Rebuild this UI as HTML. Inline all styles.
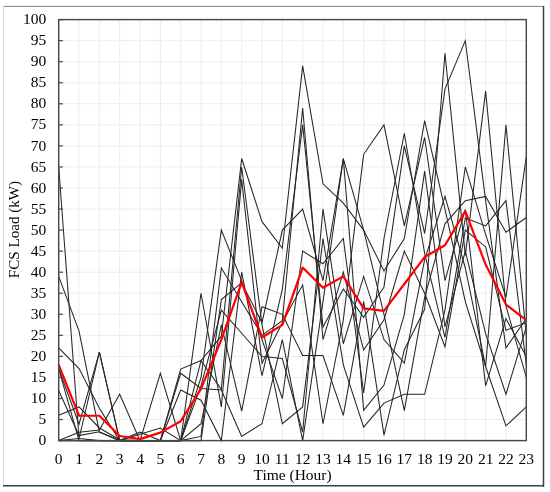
<!DOCTYPE html>
<html><head><meta charset="utf-8"><style>html,body{margin:0;padding:0;background:#fff;}svg{display:block;}</style></head>
<body><svg width="550" height="492" viewBox="0 0 550 492">
<rect width="550" height="492" fill="#fff"/>
<g stroke="#ebebeb" stroke-width="0.9" shape-rendering="auto"><line x1="79.03" y1="19.60" x2="79.03" y2="440.60"/><line x1="99.36" y1="19.60" x2="99.36" y2="440.60"/><line x1="119.69" y1="19.60" x2="119.69" y2="440.60"/><line x1="140.02" y1="19.60" x2="140.02" y2="440.60"/><line x1="160.35" y1="19.60" x2="160.35" y2="440.60"/><line x1="180.68" y1="19.60" x2="180.68" y2="440.60"/><line x1="201.01" y1="19.60" x2="201.01" y2="440.60"/><line x1="221.34" y1="19.60" x2="221.34" y2="440.60"/><line x1="241.67" y1="19.60" x2="241.67" y2="440.60"/><line x1="262.00" y1="19.60" x2="262.00" y2="440.60"/><line x1="282.33" y1="19.60" x2="282.33" y2="440.60"/><line x1="302.66" y1="19.60" x2="302.66" y2="440.60"/><line x1="322.99" y1="19.60" x2="322.99" y2="440.60"/><line x1="343.32" y1="19.60" x2="343.32" y2="440.60"/><line x1="363.65" y1="19.60" x2="363.65" y2="440.60"/><line x1="383.98" y1="19.60" x2="383.98" y2="440.60"/><line x1="404.31" y1="19.60" x2="404.31" y2="440.60"/><line x1="424.64" y1="19.60" x2="424.64" y2="440.60"/><line x1="444.97" y1="19.60" x2="444.97" y2="440.60"/><line x1="465.30" y1="19.60" x2="465.30" y2="440.60"/><line x1="485.63" y1="19.60" x2="485.63" y2="440.60"/><line x1="505.96" y1="19.60" x2="505.96" y2="440.60"/><line x1="58.70" y1="419.55" x2="526.29" y2="419.55"/><line x1="58.70" y1="398.50" x2="526.29" y2="398.50"/><line x1="58.70" y1="377.45" x2="526.29" y2="377.45"/><line x1="58.70" y1="356.40" x2="526.29" y2="356.40"/><line x1="58.70" y1="335.35" x2="526.29" y2="335.35"/><line x1="58.70" y1="314.30" x2="526.29" y2="314.30"/><line x1="58.70" y1="293.25" x2="526.29" y2="293.25"/><line x1="58.70" y1="272.20" x2="526.29" y2="272.20"/><line x1="58.70" y1="251.15" x2="526.29" y2="251.15"/><line x1="58.70" y1="230.10" x2="526.29" y2="230.10"/><line x1="58.70" y1="209.05" x2="526.29" y2="209.05"/><line x1="58.70" y1="188.00" x2="526.29" y2="188.00"/><line x1="58.70" y1="166.95" x2="526.29" y2="166.95"/><line x1="58.70" y1="145.90" x2="526.29" y2="145.90"/><line x1="58.70" y1="124.85" x2="526.29" y2="124.85"/><line x1="58.70" y1="103.80" x2="526.29" y2="103.80"/><line x1="58.70" y1="82.75" x2="526.29" y2="82.75"/><line x1="58.70" y1="61.70" x2="526.29" y2="61.70"/><line x1="58.70" y1="40.65" x2="526.29" y2="40.65"/></g><g stroke="#262626" stroke-width="1.05" fill="none" stroke-linejoin="miter" stroke-linecap="butt"><polyline points="58.70,166.95 79.03,438.50 99.36,352.19 119.69,440.60 140.02,432.18 160.35,440.60 180.68,369.03 201.01,360.61 221.34,336.19 241.67,158.53 262.00,221.68 282.33,248.20 302.66,65.91 322.99,183.79 343.32,203.16 363.65,230.10 383.98,270.94 404.31,238.52 424.64,120.64 444.97,209.05 465.30,301.67 485.63,366.50 505.96,124.85 526.29,335.35"/><polyline points="58.70,276.41 79.03,331.14 99.36,432.18 119.69,440.60 140.02,434.29 160.35,427.97 180.68,440.60 201.01,293.25 221.34,406.92 241.67,179.58 262.00,363.14 282.33,322.72 302.66,284.83 322.99,423.76 343.32,319.77 363.65,154.32 383.98,124.85 404.31,225.89 424.64,137.48 444.97,280.62 465.30,209.47 485.63,385.87 505.96,318.51 526.29,356.40"/><polyline points="58.70,347.98 79.03,368.61 99.36,408.18 119.69,440.60 140.02,440.60 160.35,373.24 180.68,440.60 201.01,436.39 221.34,267.99 241.67,301.67 262.00,335.35 282.33,320.62 302.66,108.01 322.99,339.56 343.32,272.20 363.65,350.09 383.98,319.77 404.31,251.15 424.64,293.25 444.97,346.72 465.30,230.10 485.63,246.94 505.96,330.30 526.29,322.72"/><polyline points="58.70,368.61 79.03,440.60 99.36,440.60 119.69,440.60 140.02,440.60 160.35,440.60 180.68,373.24 201.01,388.40 221.34,390.08 241.67,436.39 262.00,423.76 282.33,339.56 302.66,440.60 322.99,301.67 343.32,158.53 363.65,230.10 383.98,314.30 404.31,410.71 424.64,297.46 444.97,223.79 465.30,200.63 485.63,196.42 505.96,232.21 526.29,217.47"/><polyline points="58.70,368.61 79.03,424.18 99.36,352.19 119.69,440.60 140.02,440.60 160.35,440.60 180.68,390.08 201.01,400.18 221.34,440.60 241.67,272.20 262.00,375.77 282.33,289.04 302.66,124.85 322.99,326.93 343.32,289.04 363.65,317.25 383.98,286.94 404.31,145.90 424.64,233.47 444.97,89.06 465.30,40.65 485.63,200.63 505.96,347.98 526.29,318.51"/><polyline points="58.70,390.50 79.03,435.55 99.36,431.76 119.69,440.60 140.02,440.60 160.35,440.60 180.68,440.60 201.01,377.45 221.34,230.10 241.67,280.62 262.00,339.56 282.33,398.50 302.66,251.15 322.99,263.78 343.32,238.52 363.65,393.03 383.98,238.52 404.31,133.27 424.64,253.26 444.97,337.46 465.30,217.89 485.63,225.89 505.96,200.63 526.29,364.82"/><polyline points="58.70,415.34 79.03,406.92 99.36,427.97 119.69,439.76 140.02,440.60 160.35,440.60 180.68,440.60 201.01,360.61 221.34,389.24 241.67,166.95 262.00,324.83 282.33,423.76 302.66,406.92 322.99,238.52 343.32,364.82 363.65,427.13 383.98,403.13 404.31,394.29 424.64,394.29 444.97,310.09 465.30,166.95 485.63,234.31 505.96,297.46 526.29,156.85"/><polyline points="58.70,440.60 79.03,432.18 99.36,430.08 119.69,394.29 140.02,440.60 160.35,440.60 180.68,440.60 201.01,423.76 221.34,324.83 241.67,411.13 262.00,306.72 282.33,314.30 302.66,355.56 322.99,355.56 343.32,415.34 363.65,301.67 383.98,435.13 404.31,349.66 424.64,309.25 444.97,53.28 465.30,255.36 485.63,91.17 505.96,305.88 526.29,377.45"/><polyline points="58.70,440.60 79.03,438.50 99.36,440.60 119.69,440.60 140.02,440.60 160.35,440.60 180.68,440.60 201.01,385.87 221.34,310.09 241.67,333.25 262.00,356.40 282.33,358.50 302.66,432.18 322.99,209.05 343.32,343.77 363.65,276.41 383.98,339.56 404.31,363.14 424.64,259.57 444.97,196.42 465.30,267.99 485.63,366.50 505.96,425.87 526.29,406.92"/><polyline points="58.70,440.60 79.03,440.60 99.36,440.60 119.69,440.60 140.02,440.60 160.35,440.60 180.68,440.60 201.01,440.60 221.34,299.57 241.67,282.73 262.00,322.72 282.33,230.10 302.66,209.05 322.99,280.62 343.32,158.53 363.65,410.29 383.98,385.03 404.31,314.30 424.64,171.16 444.97,326.93 465.30,251.15 485.63,333.67 505.96,394.29 526.29,326.93"/></g><polyline points="58.70,364.82 79.03,415.76 99.36,415.76 119.69,435.97 140.02,439.13 160.35,432.60 180.68,421.23 201.01,388.82 221.34,339.56 241.67,282.30 262.00,337.46 282.33,324.83 302.66,267.57 322.99,287.78 343.32,276.41 363.65,308.41 383.98,310.93 404.31,283.99 424.64,257.04 444.97,245.26 465.30,211.16 485.63,264.62 505.96,304.62 526.29,320.19" fill="none" stroke="#ff0000" stroke-width="2.2" stroke-linejoin="round"/><g stroke="#484848" stroke-width="1.2"><line x1="58.70" y1="440.60" x2="62.90" y2="440.60"/><line x1="58.70" y1="419.55" x2="62.90" y2="419.55"/><line x1="58.70" y1="398.50" x2="62.90" y2="398.50"/><line x1="58.70" y1="377.45" x2="62.90" y2="377.45"/><line x1="58.70" y1="356.40" x2="62.90" y2="356.40"/><line x1="58.70" y1="335.35" x2="62.90" y2="335.35"/><line x1="58.70" y1="314.30" x2="62.90" y2="314.30"/><line x1="58.70" y1="293.25" x2="62.90" y2="293.25"/><line x1="58.70" y1="272.20" x2="62.90" y2="272.20"/><line x1="58.70" y1="251.15" x2="62.90" y2="251.15"/><line x1="58.70" y1="230.10" x2="62.90" y2="230.10"/><line x1="58.70" y1="209.05" x2="62.90" y2="209.05"/><line x1="58.70" y1="188.00" x2="62.90" y2="188.00"/><line x1="58.70" y1="166.95" x2="62.90" y2="166.95"/><line x1="58.70" y1="145.90" x2="62.90" y2="145.90"/><line x1="58.70" y1="124.85" x2="62.90" y2="124.85"/><line x1="58.70" y1="103.80" x2="62.90" y2="103.80"/><line x1="58.70" y1="82.75" x2="62.90" y2="82.75"/><line x1="58.70" y1="61.70" x2="62.90" y2="61.70"/><line x1="58.70" y1="40.65" x2="62.90" y2="40.65"/><line x1="58.70" y1="19.60" x2="62.90" y2="19.60"/></g><rect x="58.70" y="19.60" width="467.59" height="421.00" fill="none" stroke="#484848" stroke-width="1.45"/><line x1="3" y1="6.4" x2="544" y2="6.4" stroke="#808080" stroke-width="1"/><line x1="3.4" y1="6" x2="3.4" y2="486" stroke="#d8d8d8" stroke-width="1"/><line x1="543.5" y1="6" x2="543.5" y2="487" stroke="#404040" stroke-width="1.5"/><line x1="3" y1="485.8" x2="544" y2="485.8" stroke="#404040" stroke-width="1.5"/><g font-family="Liberation Serif, Times New Roman, serif" font-size="15.5" fill="#000"><text x="46.3" y="445.20" text-anchor="end">0</text><text x="46.3" y="424.15" text-anchor="end">5</text><text x="46.3" y="403.10" text-anchor="end">10</text><text x="46.3" y="382.05" text-anchor="end">15</text><text x="46.3" y="361.00" text-anchor="end">20</text><text x="46.3" y="339.95" text-anchor="end">25</text><text x="46.3" y="318.90" text-anchor="end">30</text><text x="46.3" y="297.85" text-anchor="end">35</text><text x="46.3" y="276.80" text-anchor="end">40</text><text x="46.3" y="255.75" text-anchor="end">45</text><text x="46.3" y="234.70" text-anchor="end">50</text><text x="46.3" y="213.65" text-anchor="end">55</text><text x="46.3" y="192.60" text-anchor="end">60</text><text x="46.3" y="171.55" text-anchor="end">65</text><text x="46.3" y="150.50" text-anchor="end">70</text><text x="46.3" y="129.45" text-anchor="end">75</text><text x="46.3" y="108.40" text-anchor="end">80</text><text x="46.3" y="87.35" text-anchor="end">85</text><text x="46.3" y="66.30" text-anchor="end">90</text><text x="46.3" y="45.25" text-anchor="end">95</text><text x="46.3" y="24.20" text-anchor="end">100</text><text x="58.70" y="463.6" text-anchor="middle">0</text><text x="79.03" y="463.6" text-anchor="middle">1</text><text x="99.36" y="463.6" text-anchor="middle">2</text><text x="119.69" y="463.6" text-anchor="middle">3</text><text x="140.02" y="463.6" text-anchor="middle">4</text><text x="160.35" y="463.6" text-anchor="middle">5</text><text x="180.68" y="463.6" text-anchor="middle">6</text><text x="201.01" y="463.6" text-anchor="middle">7</text><text x="221.34" y="463.6" text-anchor="middle">8</text><text x="241.67" y="463.6" text-anchor="middle">9</text><text x="262.00" y="463.6" text-anchor="middle">10</text><text x="282.33" y="463.6" text-anchor="middle">11</text><text x="302.66" y="463.6" text-anchor="middle">12</text><text x="322.99" y="463.6" text-anchor="middle">13</text><text x="343.32" y="463.6" text-anchor="middle">14</text><text x="363.65" y="463.6" text-anchor="middle">15</text><text x="383.98" y="463.6" text-anchor="middle">16</text><text x="404.31" y="463.6" text-anchor="middle">17</text><text x="424.64" y="463.6" text-anchor="middle">18</text><text x="444.97" y="463.6" text-anchor="middle">19</text><text x="465.30" y="463.6" text-anchor="middle">20</text><text x="485.63" y="463.6" text-anchor="middle">21</text><text x="505.96" y="463.6" text-anchor="middle">22</text><text x="526.29" y="463.6" text-anchor="middle">23</text><text x="292.6" y="480.0" text-anchor="middle">Time (Hour)</text><text transform="translate(19.2,229.5) rotate(-90)" text-anchor="middle" font-size="15.1">FCS Load (kW)</text></g>
</svg></body></html>
